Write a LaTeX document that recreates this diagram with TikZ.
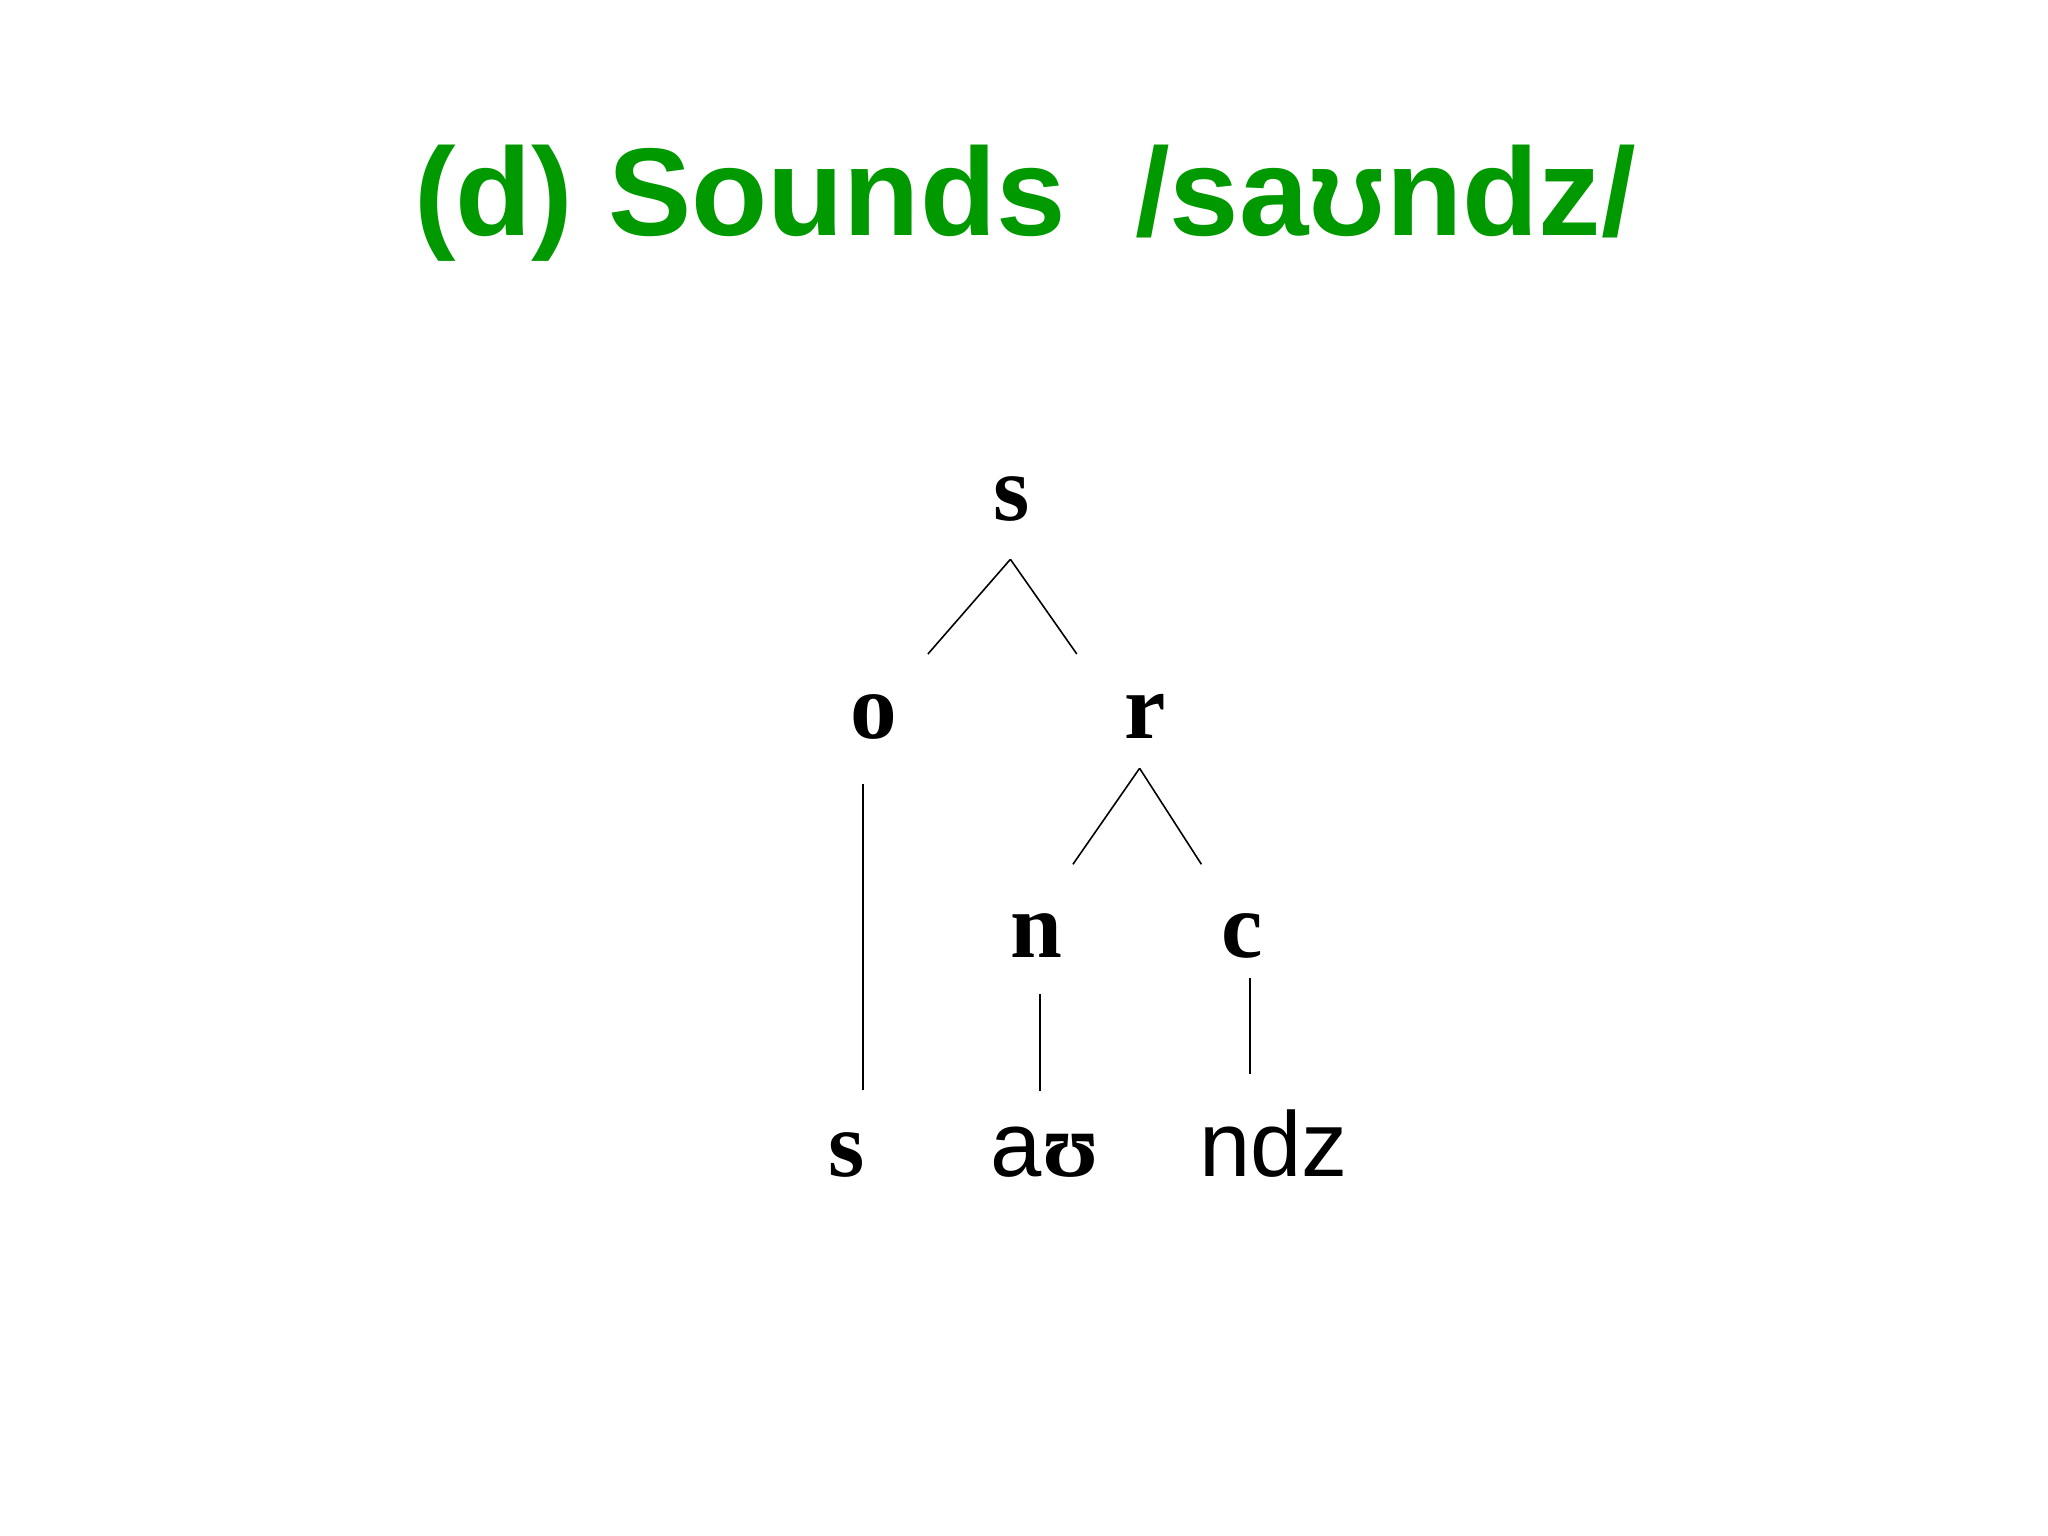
\documentclass[tikz,border=0pt]{standalone}
\usepackage{fontspec}
\setmainfont{Liberation Serif}
\newfontfamily\arialfont{Liberation Sans}
\definecolor{TitleGreen}{RGB}{0,153,0}

\begin{document}
\begin{tikzpicture}[x=0.01cm, y=-0.01cm]
			\useasboundingbox (0,0) rectangle (2048,1536);
			\tikzstyle{every node}=[inner sep=0pt, anchor=base];
			\tikzstyle{tier}=[font=\fontsize{26.5}{30}\selectfont\bfseries];
			\tikzstyle{seg}=[font=\arialfont\fontsize{26.2}{30}\selectfont];
			\tikzstyle{heading}=[text=TitleGreen, font=\arialfont\bfseries\fontsize{35.5}{40}\selectfont];
			\tikzstyle{branch}=[line width=0.45pt];
			\node [heading] (title) at (1025, 235.5) {(d) Sounds\ \ /saʊndz/};
			\node [tier] (S) at (1012, 520.5) {s};
			\node [tier] (O) at (874, 738) {o};
			\node [tier] (R) at (1145, 738) {r};
			\node [tier] (N) at (1036.5, 957) {n};
			\node [tier] (C) at (1242, 957) {c};
			\node [tier] (s) at (846.5, 1176) {s};
			\node [seg] (au) at (1045, 1176) {a{\rmfamily\bfseries ʊ}};
			\node [seg] (ndz) at (1273.5, 1176) {ndz};
			\coordinate (S-top) at (1010.4, 559.3);
			\coordinate (S-left) at (927.9, 654);
			\coordinate (S-right) at (1076.8, 654);
			\coordinate (R-top) at (1139.6, 768.3);
			\coordinate (R-left) at (1072.9, 864.3);
			\coordinate (R-right) at (1201.4, 864.3);
			\coordinate (O-top) at (862.7, 784);
			\coordinate (O-bottom) at (862.7, 1090);
			\coordinate (N-top) at (1040, 994);
			\coordinate (N-bottom) at (1040, 1090.5);
			\coordinate (C-top) at (1249.7, 977.7);
			\coordinate (C-bottom) at (1249.7, 1074);
			\draw [branch] (S-top) -- (S-left);
			\draw [branch] (S-top) -- (S-right);
			\draw [branch] (R-top) -- (R-left);
			\draw [branch] (R-top) -- (R-right);
			\draw [branch] (O-top) -- (O-bottom);
			\draw [branch] (N-top) -- (N-bottom);
			\draw [branch] (C-top) -- (C-bottom);
		\end{tikzpicture}
\end{document}
